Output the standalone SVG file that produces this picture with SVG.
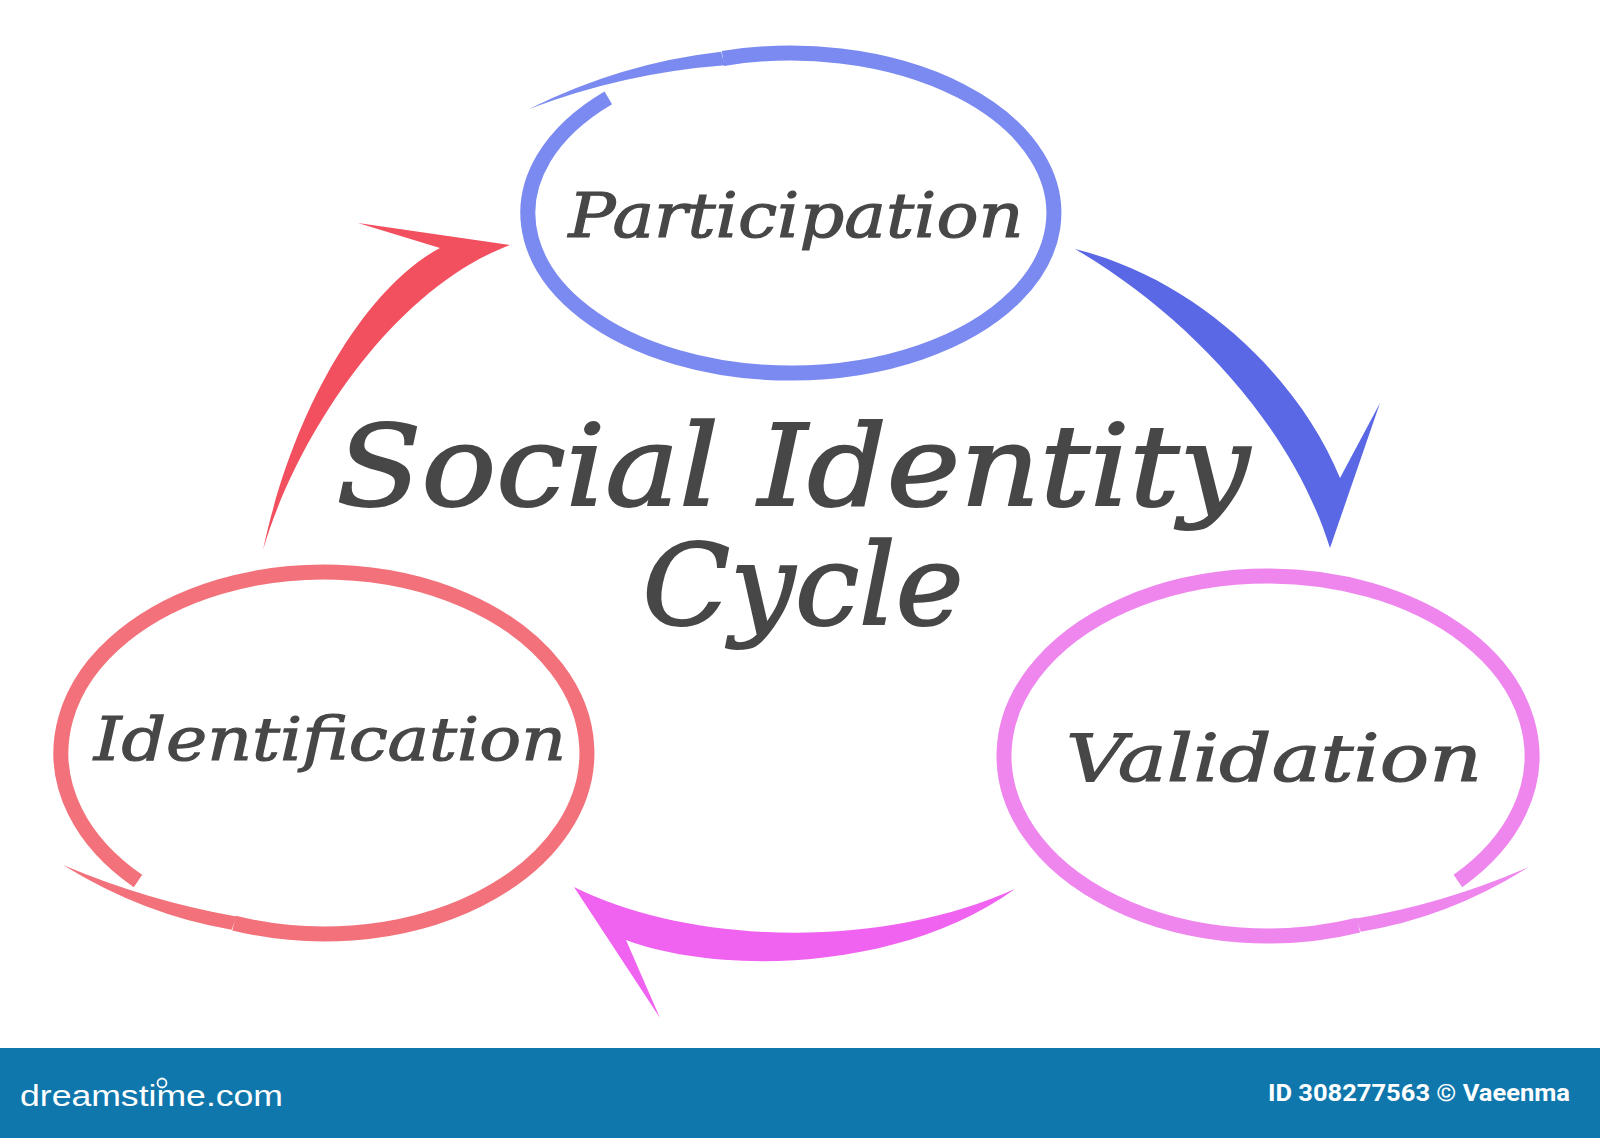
<svg xmlns="http://www.w3.org/2000/svg" width="1600" height="1138" viewBox="0 0 1600 1138">
<style>
.lbl{font-family:"DejaVu Serif","Liberation Serif",serif;font-style:italic;fill:#474747;text-anchor:middle;stroke:#474747;stroke-width:1.2}
.ring{fill:none;stroke-width:15;stroke-linecap:butt}
</style>
<rect width="1600" height="1138" fill="#ffffff"/>
<g id="connectors">
<path id="arrow-identification-participation" fill="#f2505f" d="M 510 245 L 358 223 L 440 248 C 370 285 295 400 263 550 C 295 440 390 290 510 245 Z"/>
<path id="arrow-participation-validation" fill="#5a68e6" d="M 1075 249 C 1200 280 1300 380 1340 478 L 1380 403 L 1330 548 C 1290 420 1180 310 1075 249 Z"/>
<path id="arrow-validation-identification" fill="#f062f0" d="M 574 887 C 690 945 880 950 1015 889 C 900 972 720 975 626 940 L 660 1018 Z"/>
</g>
<g id="participation" transform="translate(791,213)">
<path class="ring" stroke="#7b8af0" d="M -182.7 -115.1 A 263 160 0 1 0 -68.1 -154.5"/>
<path fill="#7b8af0" d="M -69.9 -161.3 Q -170 -150 -262 -104 Q -168 -140 -66.3 -147.8 Z"/>
<text class="lbl" x="5" y="24" font-size="62" textLength="455" lengthAdjust="spacingAndGlyphs">Participation</text>
</g>
<g id="identification" transform="translate(324,753)">
<path class="ring" stroke="#f2717a" d="M -186 128 A 263 181 0 1 1 -89.9 170.1"/>
<path fill="#f2717a" d="M -92.3 176.7 Q -180 162 -261 112 Q -176 148 -87.6 163.5 Z"/>
<text class="lbl" x="6" y="7" font-size="60" textLength="472" lengthAdjust="spacingAndGlyphs">Identification</text>
</g>
<g id="validation" transform="translate(1268,756)">
<path class="ring" stroke="#ee86ee" d="M 189.9 125 A 264 180 0 1 0 90.3 169.1"/>
<path fill="#ee86ee" d="M 92.7 175.7 Q 180 162 261 111 Q 176 148 87.9 162.6 Z"/>
<text class="lbl" x="6" y="25" font-size="66" textLength="416" lengthAdjust="spacingAndGlyphs">Validation</text>
</g>
<g id="title">
<text class="lbl" x="793" y="505" font-size="112" textLength="913" lengthAdjust="spacingAndGlyphs" style="stroke-width:2">Social Identity</text>
<text class="lbl" x="803" y="624" font-size="112" textLength="321" lengthAdjust="spacingAndGlyphs" style="stroke-width:2">Cycle</text>
</g>
<g id="banner">
<rect x="0" y="1048" width="1600" height="90" fill="#1077ad"/>
<circle cx="162" cy="1083" r="4.5" fill="none" stroke="#ffffff" stroke-width="1.8"/>
<text x="20" y="1106" font-family="Liberation Sans, sans-serif" font-size="29" fill="#ffffff" textLength="263" lengthAdjust="spacingAndGlyphs">dreamstime.com</text>
<text x="1268" y="1101" font-family="Roboto, Liberation Sans, sans-serif" font-weight="bold" font-size="24" fill="#ffffff" textLength="302" lengthAdjust="spacingAndGlyphs">ID 308277563 © Vaeenma</text>
</g>
</svg>
